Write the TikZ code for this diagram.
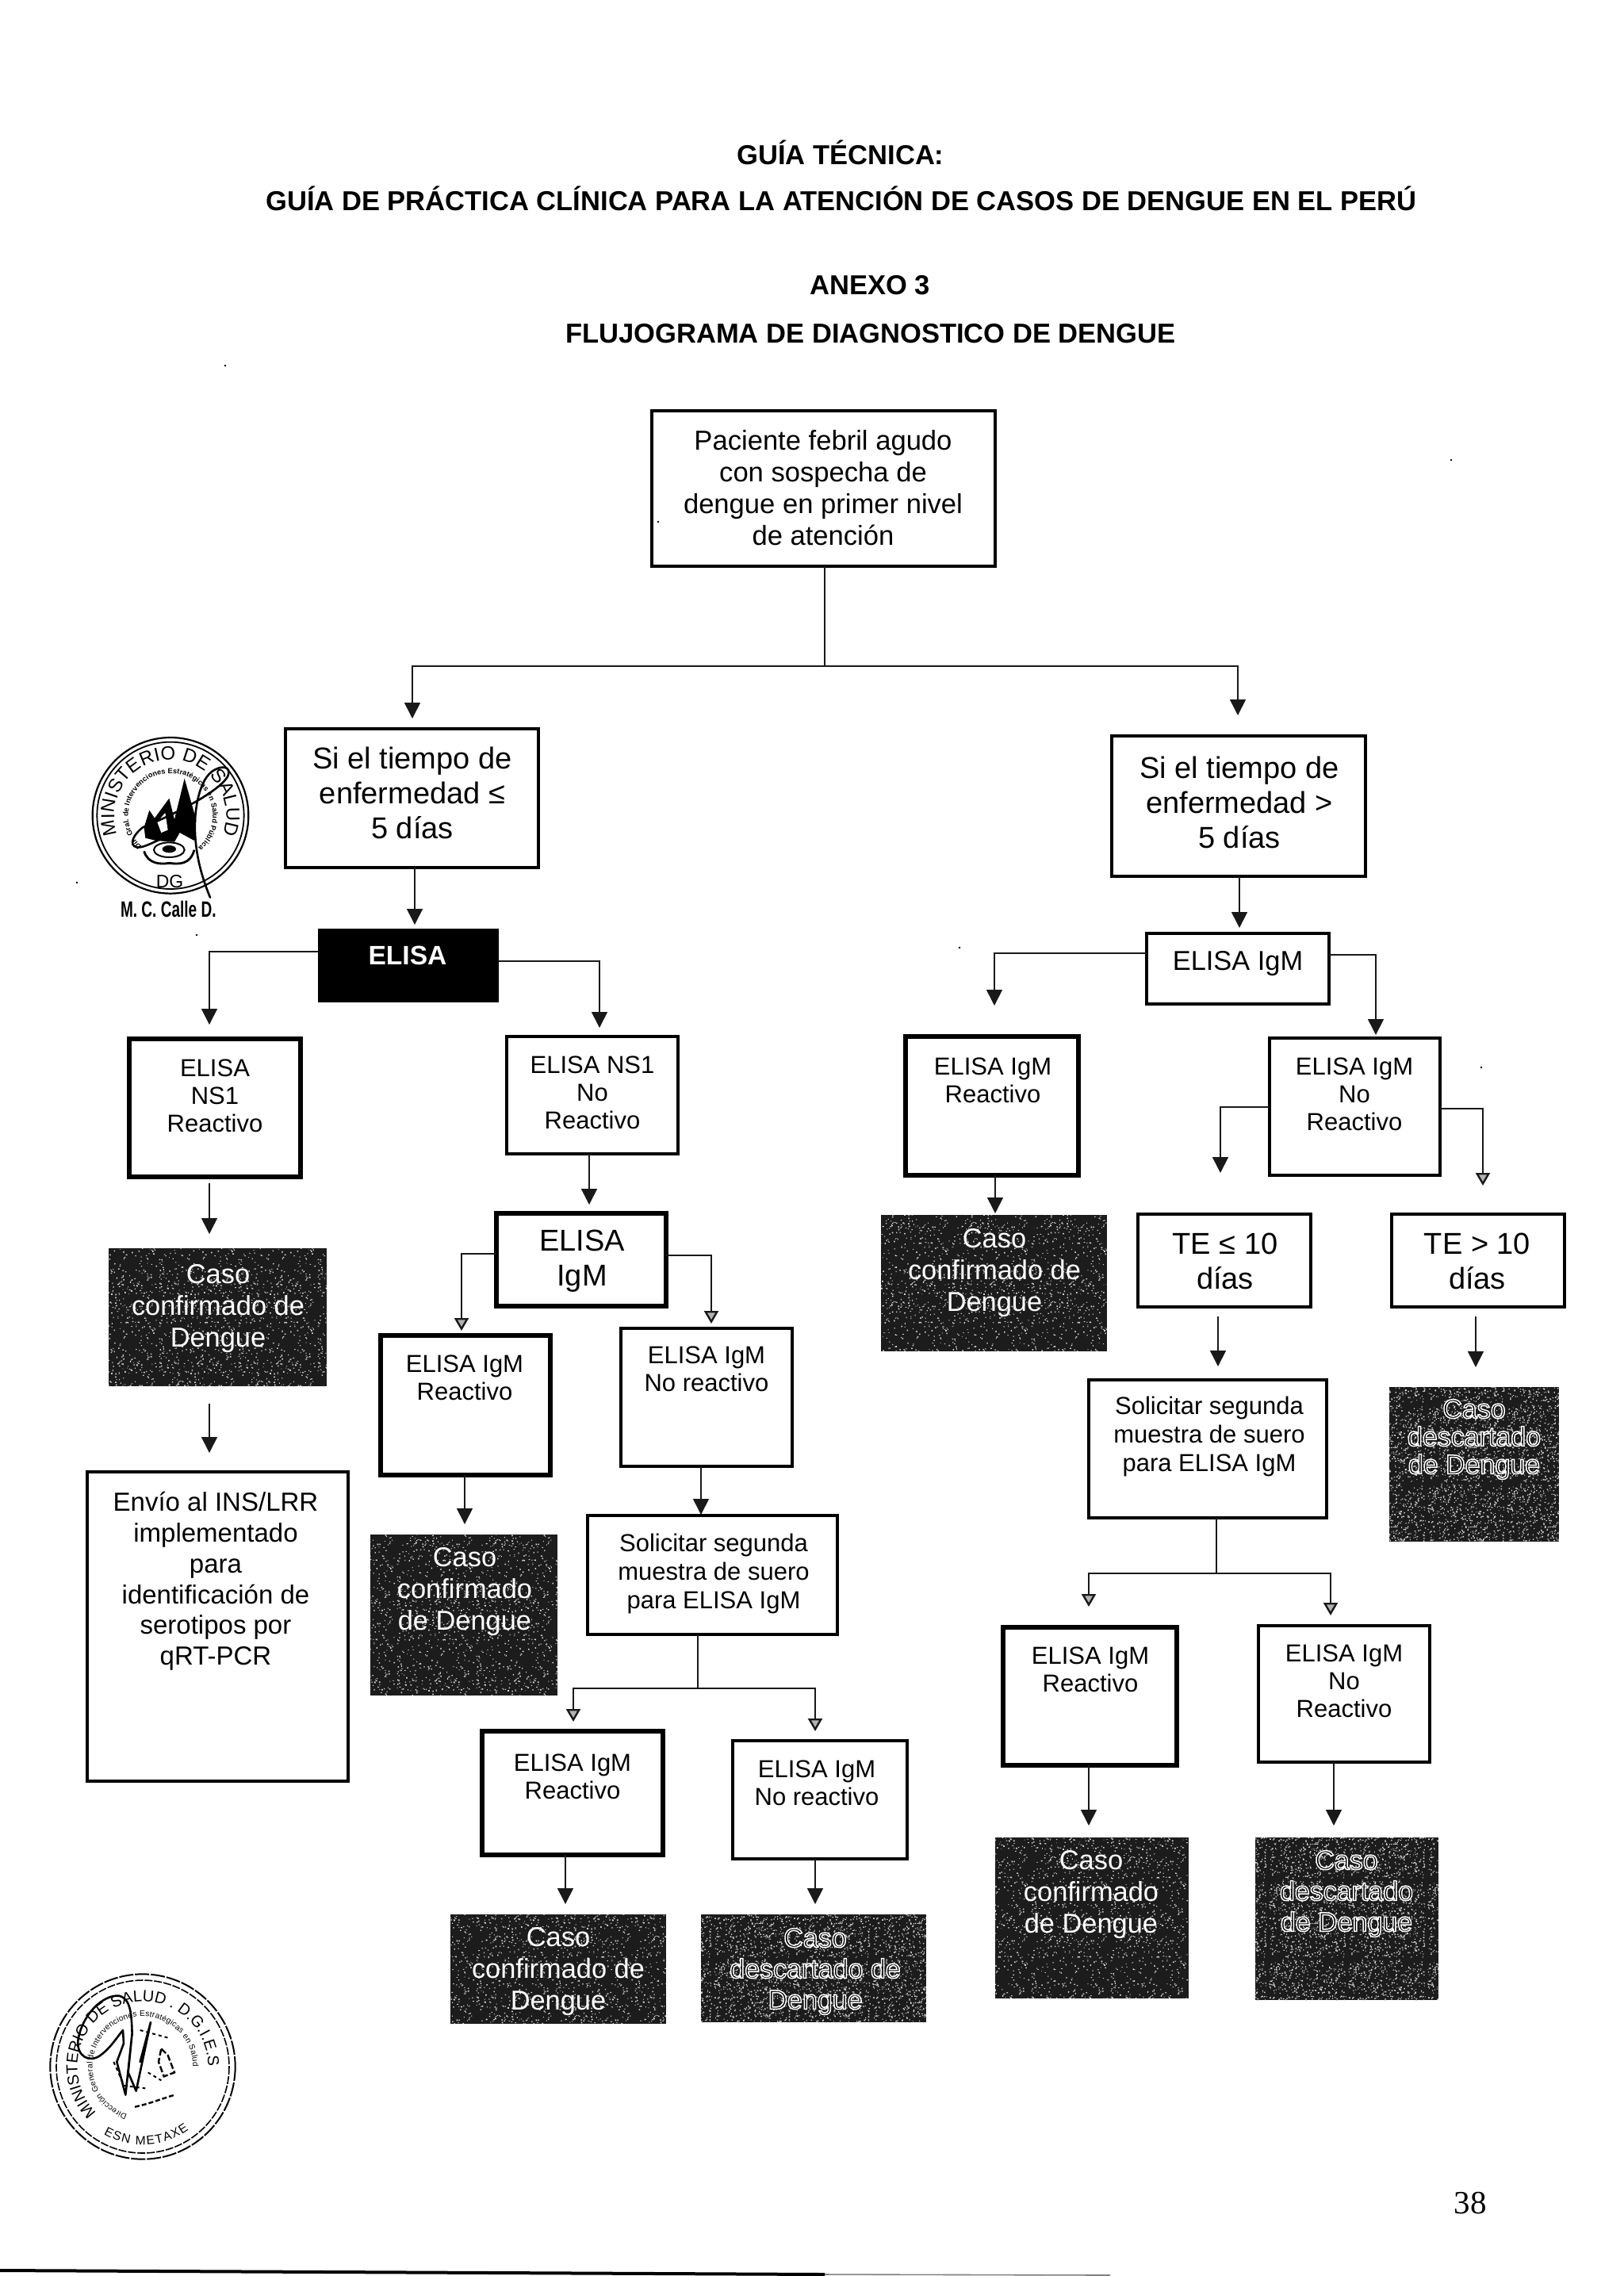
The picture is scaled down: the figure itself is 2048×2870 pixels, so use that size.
\documentclass[tikz,border=0pt]{standalone}
\usepackage{fontspec}
\setmainfont{Liberation Sans}
\newfontfamily\timesf{Liberation Serif}
\usetikzlibrary{arrows.meta,decorations.text,patterns}
\newcommand{\fsz}[2]{\fontsize{#1}{#2}\selectfont}
\definecolor{noiseb}{HTML}{1C1C1C}
\definecolor{noisew}{HTML}{D0D0D0}
\pgfdeclarepatternformonly{noiseA}{\pgfqpoint{0pt}{0pt}}{\pgfqpoint{50pt}{50pt}}{\pgfqpoint{50pt}{50pt}}{%
 \pgfmathsetseed{11}%
 \foreach \k in {1,...,320}{\pgfpathrectangle{\pgfpoint{rnd*49pt}{rnd*49pt}}{\pgfpoint{(.4+.5*rnd)*1pt}{(.4+.5*rnd)*1pt}}\pgfusepath{fill}}}
\pgfdeclarepatternformonly{noiseB}{\pgfqpoint{0pt}{0pt}}{\pgfqpoint{50pt}{50pt}}{\pgfqpoint{50pt}{50pt}}{%
 \pgfmathsetseed{23}%
 \foreach \k in {1,...,620}{\pgfpathrectangle{\pgfpoint{rnd*49pt}{rnd*49pt}}{\pgfpoint{(.4+.5*rnd)*1pt}{(.4+.5*rnd)*1pt}}\pgfusepath{fill}}}
\tikzset{
  basebox/.style={draw=black,fill=white,inner sep=0pt,outer sep=0pt,align=center},
  bmid/.style={basebox,line width=2.4pt},
  bwide/.style={basebox,line width=3.4pt},
  darkb/.style={fill=#1,inner sep=0pt,outer sep=0pt},
  txt/.style={inner sep=0pt,outer sep=0pt,align=center},
  ftitle/.style={txt,font=\bfseries\fsz{17.27}{21}},
  fa/.style={txt,font=\fsz{17.3}{20}},
  fb/.style={txt,font=\fsz{19}{22}},
  fc/.style={txt,font=\fsz{15.5}{17.6}},
  fe/.style={txt,font=\fsz{15.5}{18}},
  fw/.style={txt,text=white,font=\fsz{17.2}{20}},
  fo/.style={txt,text=black,font=\fsz{17}{19.5}},
  conn/.style={line width=.8pt,draw=black!90},
  arr/.style={conn,-{Triangle[length=10pt,width=10pt]}},
  arro/.style={conn,-{Triangle[open,fill=white!70!black,length=8pt,width=9pt,line width=1.2pt]}},
  arcA/.style={decorate,decoration={text along path,text align=fit to path,#1}},
  stampln/.style={line width=.9pt,black},
  sign/.style={line width=1.3pt,black,line cap=round,line join=round},
  speckdot/.style={fill=black}
}
\newcommand{\bx}[7]{\node[#1,minimum width={(#5-#3)*.5pt},minimum height={(#6-#4)*.5pt}] (#2) at ({(#3+#5)/2},{(#4+#6)/2}) {#7};}
% dark speckled box: name,x1,y1,x2,y2,pattern,colour
\newcommand{\dk}[7]{\node[darkb=#7,minimum width={(#4-#2)*.5pt},minimum height={(#5-#3)*.5pt}] (#1) at ({(#2+#4)/2},{(#3+#5)/2}) {};
 \fill[pattern=#6,pattern color=noisew] (#1.north west) rectangle (#1.south east);}
\newcommand{\outl}{\special{pdf:code 2 Tr 1 1 1 RG .75 w}}
\begin{document}
\begin{tikzpicture}[x=.5pt,y=-.5pt]
\useasboundingbox (0,0) rectangle (2048,2870);
% headings
\node[ftitle] (h1) at (1060,192) {GUÍA TÉCNICA:};
\node[ftitle] (h2) at (1061,250) {GUÍA DE PRÁCTICA CLÍNICA PARA LA ATENCIÓN DE CASOS DE DENGUE EN EL PERÚ};
\node[ftitle] (h3) at (1097,360) {ANEXO 3};
\node[ftitle] (h4) at (1098,421) {FLUJOGRAMA DE DIAGNOSTICO DE DENGUE};
\node[txt,font=\timesf\fsz{20.5}{24}] (pg) at (1854,2778) {38};
% top
\bx{bmid}{main}{822}{518}{1255}{714}{}
\node[fa] (maint) at (1038,615) {Paciente febril agudo\\con sospecha de\\dengue en primer nivel\\de atención};
\bx{bmid}{le}{360}{919}{679}{1094}{}
\node[fb] (let) at (520,1000) {Si el tiempo de\\enfermedad ≤\\5 días};
\bx{bmid}{ri}{1402}{928}{1722}{1105}{}
\node[fb] (rit) at (1563,1012) {Si el tiempo de\\enfermedad >\\5 días};
% ELISA
\node[darkb=black,minimum width=114pt,minimum height=46.5pt] (el) at (515,1217.5) {};
\node[txt,text=white,font=\bfseries\fsz{16.8}{20}] (elt) at (514,1205) {ELISA};
\bx{bmid}{ei}{1446}{1177}{1676}{1266}{}
\node[txt,font=\fsz{17.2}{20}] (eit) at (1561,1215) {ELISA IgM};
% level 3
\bx{bwide}{n1r}{163}{1310}{379}{1484}{}
\node[fc] (n1rt) at (271,1382) {ELISA\\NS1\\Reactivo};
\bx{bmid}{n1n}{639}{1307}{855}{1455}{}
\node[fc] (n1nt) at (747,1378) {ELISA NS1\\No\\Reactivo};
\bx{bwide}{irr}{1142}{1307}{1360}{1482}{}
\node[fc] (irrt) at (1252,1362) {ELISA IgM\\Reactivo};
\bx{bmid}{inr}{1601}{1309}{1816}{1482}{}
\node[fc] (inrt) at (1708,1380) {ELISA IgM\\No\\Reactivo};
% col 1
\dk{c1}{137}{1574}{412}{1748}{noiseA}{noiseb}
\node[fw] (c1t) at (275,1650) {Caso\\confirmado de\\Dengue};
\bx{bmid}{env}{110}{1856}{439}{2246}{}
\node[txt,font=\fsz{16.5}{19.4}] (envt) at (272,1994) {Envío al INS/LRR\\implementado\\para\\identificación de\\serotipos por\\qRT-PCR};
% col 2
\bx{bwide}{big}{626}{1530}{840}{1647}{}
\node[fb] (bigt) at (734,1590) {ELISA\\IgM};
\bx{bwide}{g1}{480}{1684}{694}{1860}{}
\node[fc] (g1t) at (586,1737) {ELISA IgM\\Reactivo};
\bx{bmid}{g2}{783}{1675}{999}{1849}{}
\node[fc] (g2t) at (891,1726) {ELISA IgM\\No reactivo};
\dk{c2}{467}{1935}{703}{2138}{noiseA}{noiseb}
\node[fw] (c2t) at (586,2007) {Caso\\confirmado\\de Dengue};
\bx{bmid}{so1}{741}{1911}{1056}{2061}{}
\node[fe] (so1t) at (900,1984) {Solicitar segunda\\muestra de suero\\para ELISA IgM};
\bx{bwide}{g3}{608}{2183}{836}{2339}{}
\node[fc] (g3t) at (722,2240) {ELISA IgM\\Reactivo};
\bx{bmid}{g4}{924}{2195}{1144}{2344}{}
\node[fc] (g4t) at (1030,2248) {ELISA IgM\\No reactivo};
\dk{c3}{568}{2414}{840}{2552}{noiseA}{noiseb}
\node[fw] (c3t) at (704,2486) {Caso\\confirmado de\\Dengue};
\dk{d1}{884}{2414}{1168}{2550}{noiseB}{noiseb}
\node[fo] (d1t) at (1028,2486) {\outl Caso\\descartado de\\Dengue};
% right column
\dk{c4}{1111}{1532}{1396}{1704}{noiseA}{noiseb}
\node[fw] (c4t) at (1254,1605) {Caso\\confirmado de\\Dengue};
\bx{bmid}{te1}{1435}{1531}{1653}{1648}{}
\node[fb] (te1t) at (1545,1590) {TE ≤ 10\\días};
\bx{bmid}{te2}{1755}{1531}{1973}{1648}{}
\node[fb] (te2t) at (1863,1590) {TE > 10\\días};
\bx{bmid}{so2}{1373}{1740}{1673}{1914}{}
\node[fe] (so2t) at (1525,1811) {Solicitar segunda\\muestra de suero\\para ELISA IgM};
\dk{d2}{1752}{1749}{1966}{1944}{noiseB}{noiseb}
\node[fo,font=\fsz{17}{17.5}] (d2t) at (1859,1815) {\outl Caso\\descartado\\de Dengue};
\bx{bwide}{r1}{1265}{2052}{1484}{2226}{}
\node[fc] (r1t) at (1375,2105) {ELISA IgM\\Reactivo};
\bx{bmid}{r2}{1587}{2050}{1803}{2222}{}
\node[fc] (r2t) at (1695,2120) {ELISA IgM\\No\\Reactivo};
\dk{c5}{1255}{2317}{1499}{2520}{noiseA}{noiseb}
\node[fw] (c5t) at (1376,2389) {Caso\\confirmado\\de Dengue};
\dk{d3}{1583}{2317}{1814}{2522}{noiseB}{noiseb}
\node[fo] (d3t) at (1698,2388) {\outl Caso\\descartado\\de Dengue};
% connector coordinates
\coordinate (j1) at (1040,840);
\coordinate (t1) at (520,906);
\coordinate (t2) at (1561,902);
\coordinate (t3) at (523,1166);
\coordinate (t4) at (1563,1170);
\coordinate (b1) at (401,1200);
\coordinate (t5) at (264,1292);
\coordinate (b2) at (628,1212);
\coordinate (t6) at (756,1296);
\coordinate (b3) at (1446,1202);
\coordinate (t7) at (1254,1268);
\coordinate (b4) at (1676,1204);
\coordinate (t8) at (1735,1305);
\coordinate (t9) at (264,1556);
\coordinate (t10) at (264,1832);
\coordinate (t11) at (743,1519);
\coordinate (b5) at (626,1581);
\coordinate (t12) at (582,1678);
\coordinate (b6) at (840,1583);
\coordinate (t13) at (897,1669);
\coordinate (t14) at (586,1922);
\coordinate (t15) at (884,1910);
\coordinate (j2) at (880,2129);
\coordinate (t16) at (723,2171);
\coordinate (t17) at (1028,2183);
\coordinate (t18) at (713,2401);
\coordinate (t19) at (1028,2401);
\coordinate (t20) at (1255,1530);
\coordinate (b7) at (1601,1396);
\coordinate (t21) at (1539,1479);
\coordinate (b8) at (1816,1398);
\coordinate (t22) at (1870,1495);
\coordinate (t23) at (1536,1723);
\coordinate (t24) at (1861,1724);
\coordinate (j3) at (1534,1984);
\coordinate (t25) at (1373,2026);
\coordinate (t26) at (1678,2037);
\coordinate (t27) at (1373,2302);
\coordinate (t28) at (1682,2302);
% connectors
\draw[conn] (main.south -| j1) -- (j1);
\draw[arr] (j1) -| (t1);
\draw[arr] (j1) -| (t2);
\draw[arr] (le.south -| t3) -- (t3);
\draw[arr] (ri.south -| t4) -- (t4);
\draw[arr] (b1) -| (t5);
\draw[arr] (b2) -| (t6);
\draw[arr] (b3) -| (t7);
\draw[arr] (b4) -| (t8);
\draw[arr,shorten <=4pt] (n1r.south -| t9) -- (t9);
\draw[arr,shorten <=11pt] (c1.south -| t10) -- (t10);
\draw[arr] (n1n.south -| t11) -- (t11);
\draw[arro] (b5) -| (t12);
\draw[arro] (b6) -| (t13);
\draw[arr] (g1.south -| t14) -- (t14);
\draw[arr] (g2.south -| t15) -- (t15);
\draw[conn] (so1.south -| j2) -- (j2);
\draw[arro] (j2) -| (t16);
\draw[arro] (j2) -| (t17);
\draw[arr] (g3.south -| t18) -- (t18);
\draw[arr] (g4.south -| t19) -- (t19);
\draw[arr] (irr.south -| t20) -- (t20);
\draw[arr] (b7) -| (t21);
\draw[arro] (b8) -| (t22);
\draw[arr,shorten <=6pt] (te1.south -| t23) -- (t23);
\draw[arr,shorten <=6pt] (te2.south -| t24) -- (t24);
\draw[conn] (so2.south -| j3) -- (j3);
\draw[arro] (j3) -| (t25);
\draw[arro] (j3) -| (t26);
\draw[arr] (r1.south -| t27) -- (t27);
\draw[arr] (r2.south -| t28) -- (t28);
% stamp 1 (drawn in the zoom crop's units, y downwards)
\begin{scope}[shift={(80,900)},scale=1/3]
\coordinate (s1) at (405,385);
\draw[stampln,line width=1.1pt] (s1) circle (295);
\draw[stampln] (s1) circle (278);
\path[arcA={text={|\fsz{12}{14}|MINISTERIO DE SALUD}}] ({405+212*cos(-200)},{385+212*sin(-200)}) arc[start angle=-200,end angle=20,radius=212];
\path[arcA={text={|\bfseries\fsz{4.6}{5.5}|Dir. Gral. de Intervenciones Estratégicas en Salud Pública}}] ({405+160*cos(-227)},{385+160*sin(-227)}) arc[start angle=-227,end angle=49,radius=160];
\fill[black] (305,430)--(325,365)--(345,395)--(400,320)--(420,400)--(458,245)--(482,330)--(502,400)--(495,480)--(440,450)--(420,485)--(350,480)--(310,470)--cycle;
\fill[white] (355,410)--(385,375)--(395,440)--(370,450)--cycle;
\draw[line width=1pt] (400,515) ellipse (58 and 28);
\fill[black] (400,512) ellipse (26 and 14);
\draw[line width=1.4pt] (305,520) .. controls (320,570) and (370,570) .. (400,565) .. controls (440,570) and (480,570) .. (495,515);
\draw[sign] (555,695) .. controls (520,610) and (505,540) .. (500,480) .. controls (490,380) and (510,260) .. (560,220) .. controls (600,190) and (640,200) .. (620,240) .. controls (580,300) and (420,380) .. (300,430) .. controls (250,470) and (250,510) .. (290,505) .. controls (320,500) and (350,480) .. (380,470);
\node[txt,font=\fsz{11.5}{13}] (dg) at (402,635) {DG};
\node[txt,font=\bfseries\fsz{14}{16}] (mc) at (397,740) {\scalebox{.68}[1]{M. C. Calle D.}};
\end{scope}
% stamp 2
\begin{scope}[shift={(30,2460)},scale=1/3]
\coordinate (s2) at (450,438);
\draw[stampln,line width=1pt,dash pattern=on 9pt off 1pt] (s2) circle (350);
\draw[stampln,line width=.8pt,dash pattern=on 5pt off 1pt] (s2) circle (327);
\path[arcA={text={|\fsz{10}{12}|MINISTERIO DE SALUD . D.G.I.E.S.}}] ({450+247*cos(-225)},{438+247*sin(-225)}) arc[start angle=-225,end angle=0,radius=247];
\path[arcA={text={|\fsz{5.1}{7}|Dirección General de Intervenciones Estratégicas en Salud}}] ({450+190*cos(-252)},{438+190*sin(-252)}) arc[start angle=-252,end angle=0,radius=190];
\path[arcA={text={|\fsz{7.8}{9}|ESN METAXE}}] ({450+296*cos(-240)},{438+296*sin(-240)}) arc[start angle=-240,end angle=-306,radius=296];
\draw[sign] (410,320) .. controls (408,240) and (405,180) .. (360,170) .. controls (300,165) and (220,240) .. (205,340) .. controls (200,400) and (250,425) .. (290,395) .. controls (330,365) and (350,330) .. (375,300) -- (378,350) -- (352,420) -- (385,545) -- (410,310) -- (395,460) -- (425,530) -- (480,270) -- (440,420);
\draw[line width=1.2pt,dash pattern=on 4pt off 1.5pt] (520,370) -- (545,395) -- (570,460) -- (530,475) -- (510,420) -- cycle;
\draw[line width=1.2pt,dash pattern=on 3pt off 1.5pt] (420,590) .. controls (470,580) and (520,560) .. (570,545);
\draw[line width=1pt,dash pattern=on 2pt off 2pt] (440,300) -- (550,330);
\draw[line width=1pt,dash pattern=on 2pt off 2pt] (340,420) -- (380,510) -- (460,520);
\draw[line width=1pt,dash pattern=on 2pt off 2pt] (470,460) -- (520,490);
\end{scope}
% bottom rule
\coordinate (r0) at (0,2863);
\coordinate (r1e) at (1040,2868);
\coordinate (r2e) at (1400,2869);
\draw[line width=2pt] (r0) -- (r1e);
\draw[line width=.8pt,black!50] (r1e) -- (r2e);
% scan specks
\foreach \sx/\sy in {284/461,248/1179,97/1113,1868/1346,830/658,1830/580,1210/1195}{\fill[speckdot] (\sx,\sy) circle (1.3);}
\end{tikzpicture}
\end{document}
